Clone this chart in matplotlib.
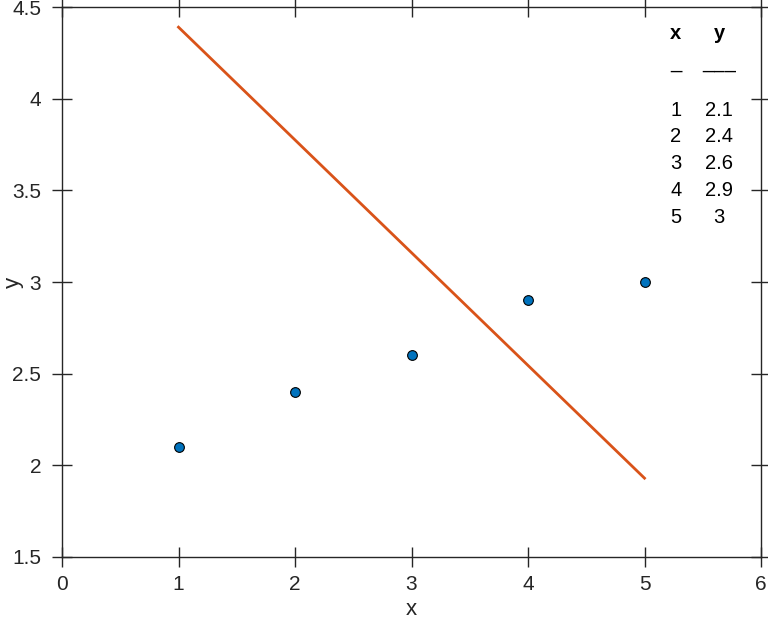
import numpy as np
import matplotlib
matplotlib.use("Agg")
import matplotlib.pyplot as plt

plt.rcParams['font.family'] = ['Liberation Sans', 'DejaVu Sans']

# data
x = [1, 2, 3, 4, 5]
y = [2.1, 2.4, 2.6, 2.9, 3]
line_x = [1, 5]
line_y = [4.39, 1.93]

blue = '#0072BD'
orange = '#D95319'
axcol = '#262626'

fig = plt.figure(figsize=(7.68, 6.2), dpi=100)
ax = fig.add_axes([62 / 768, 63 / 620, 699 / 768, 550 / 620])

ax.plot(line_x, line_y, color=orange, lw=2)
ax.plot(x, y, 'o', color=blue, mec='k', mew=0.8, ms=7)

ax.set_xlim(0, 6)
ax.set_ylim(1.5, 4.5)
ax.set_xticks(np.arange(0, 7, 1))
ax.set_yticks(np.arange(1.5, 4.6, 0.5))
ax.set_yticklabels(['1.5', '2', '2.5', '3', '3.5', '4', '4.5'])

for s in ax.spines.values():
    s.set_color(axcol)
    s.set_linewidth(1.0)
ax.tick_params(direction='inout', length=14, width=1.0, colors=axcol,
               labelsize=15, top=True, right=True, pad=6)
ax.tick_params(axis='y', pad=8)

ax.set_xlabel('x', fontsize=16, color=axcol, va='center')
ax.set_ylabel('y', fontsize=16, color=axcol, va='center')
ax.xaxis.set_label_coords(0.5, -0.096)
ax.yaxis.set_label_coords(-0.07, 0.5)

# table of values
cx, cy = 5.27, 5.64
fs = 14.5
ax.text(cx, 4.358, 'x', fontsize=fs, fontweight='bold', ha='center', va='center')
ax.text(cy, 4.358, 'y', fontsize=fs, fontweight='bold', ha='center', va='center')
ax.text(cx, 4.20, '_', fontsize=fs, ha='center', va='center')
ax.text(cy, 4.20, '___', fontsize=fs, ha='center', va='center')
for i, (xv, yv) in enumerate(zip(x, y)):
    ty = 3.938 - i * 0.147
    ax.text(cx, ty, f'{xv:g}', fontsize=fs, ha='center', va='center')
    ax.text(cy, ty, f'{yv:g}', fontsize=fs, ha='center', va='center')

fig.savefig('out.png', dpi=100)
